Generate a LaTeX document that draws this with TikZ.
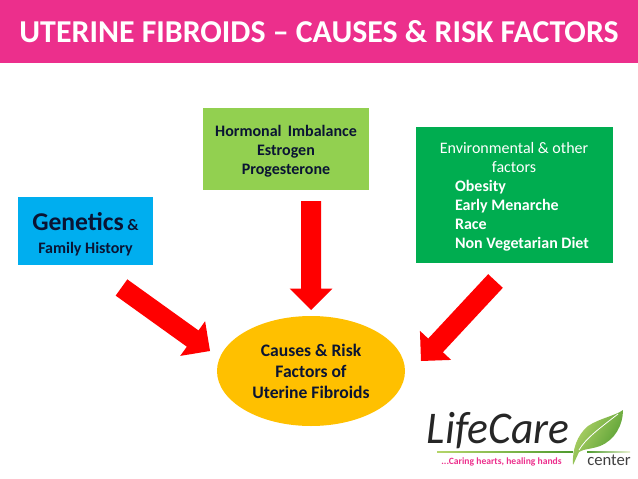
\documentclass[tikz,border=0pt]{standalone}
\usepackage{fontspec}
\setmainfont{Carlito}
\usetikzlibrary{calc,shapes.geometric}
\definecolor{bannerpink}{HTML}{EC2F8C}
\definecolor{genblue}{HTML}{00AEEF}
\definecolor{hormgreen}{HTML}{92D050}
\definecolor{envgreen}{HTML}{00AD50}
\definecolor{causeyellow}{HTML}{FFC000}
\definecolor{textnavy}{HTML}{0A1433}
\definecolor{leafgreen}{HTML}{4E9A2E}
\definecolor{leaflight}{HTML}{B5D56A}
\def\blockarrow(#1)(#2){
	\coordinate (headbase) at ($(#2)!16pt!(#1)$);
	\fill[red] ($(#1)!7.5pt!90:(#2)$) -- ($(headbase)!7.5pt!-90:(#1)$) -- ($(headbase)!16pt!-90:(#1)$) -- (#2) -- ($(headbase)!16pt!90:(#1)$) -- ($(headbase)!7.5pt!90:(#1)$) -- ($(#1)!7.5pt!-90:(#2)$) -- cycle;
}
\tikzset{
	boxnode/.style={inner sep=0pt, align=center, text=textnavy, font=\bfseries\fontsize{12}{14.3}\selectfont},
}

\begin{document}
\begin{tikzpicture}[x=0.75pt, y=-0.75pt]
	%%%%% START %%%%%
	\useasboundingbox (0, 0) rectangle (638, 478);
	
	\fill[bannerpink] (0, 0) rectangle (638, 63);
	\node[text=white, font=\bfseries\fontsize{23.9}{26}\selectfont] (title) at (319, 32) {UTERINE FIBROIDS – CAUSES \& RISK FACTORS};
	
	\node[boxnode, fill=genblue, minimum width=101.25pt, minimum height=51pt] (genetics) at (85.5, 231) {\rule{0pt}{18pt}{\fontsize{19.2}{22}\selectfont Genetics} {\fontsize{12}{14}\selectfont \&}\\[3pt]Family History};
	\node[boxnode, fill=hormgreen, minimum width=124.5pt, minimum height=61.5pt] (hormonal) at (286, 149) {\rule{0pt}{11.5pt}Hormonal\, Imbalance\\Estrogen\\Progesterone};
	\node[boxnode, fill=envgreen, minimum width=147.75pt, minimum height=102pt, text=white, align=left] (environment) at (514.5, 195) {\rule{0pt}{11.5pt}\makebox[111pt]{\mdseries Environmental \& other}\\\makebox[111pt]{\mdseries factors}\\\hspace{11.25pt}Obesity\\\hspace{11.25pt}Early Menarche\\\hspace{11.25pt}Race\\\hspace{11.25pt}Non Vegetarian Diet};
	\node[boxnode, ellipse, fill=causeyellow, minimum width=141pt, minimum height=82.5pt, font=\bfseries\fontsize{13.2}{15.8}\selectfont] (causes) at (311, 371) {Causes \& Risk\\Factors of\\Uterine Fibroids};
	
	\coordinate (genTail) at (121.5, 287.5);
	\coordinate (genTip) at (210, 351);
	\coordinate (hormTail) at (311, 201);
	\coordinate (hormTip) at (311, 310);
	\coordinate (envTail) at (495.5, 281);
	\coordinate (envTip) at (421, 361);
	\blockarrow(genTail)(genTip)
	\blockarrow(hormTail)(hormTip)
	\blockarrow(envTail)(envTip)
	
	\node[inner sep=0pt, text=black!85, font=\itshape\fontsize{34}{36}\selectfont, xscale=0.96] (lifecare) at (498, 431) {LifeCare};
	\shade[left color=leaflight, right color=leafgreen] (437, 451.5) rectangle (573, 452.5);
	\shade[left color=leafgreen, right color=leaflight!30] (587, 451.5) rectangle (630, 452.5);
	\node[inner sep=0pt, text=bannerpink, font=\bfseries\fontsize{7.2}{8}\selectfont] (tagline) at (501.5, 461.5) {...Caring hearts, healing hands};
	\node[inner sep=0pt, text=black!75, font=\fontsize{12.5}{14}\selectfont] (center) at (609, 460) {center};
	\shade[left color=leaflight, right color=leafgreen, shading angle=60] (573, 465) .. controls (572, 450) and (577, 435) .. (588, 426) .. controls (600, 418) and (615, 416) .. (623, 410) .. controls (623, 425) and (615, 440) .. (600, 446) .. controls (592, 449) and (583, 449) .. (579, 452) -- (573, 465) -- cycle;
	\draw[white, line width=0.6pt] (579, 450) .. controls (586, 438) and (600, 428) .. (618, 414);
	
	%%%%% END %%%%%
\end{tikzpicture}
\end{document}
